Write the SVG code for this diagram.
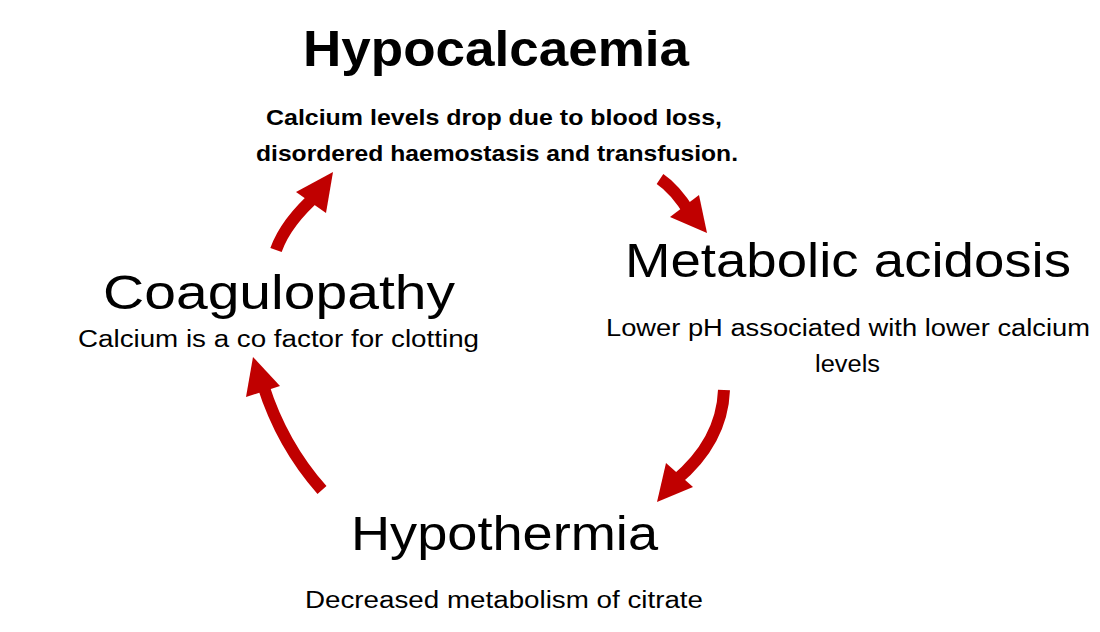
<svg xmlns="http://www.w3.org/2000/svg" width="1100" height="632" viewBox="0 0 1100 632">
<style>
text{font-family:"Liberation Sans","DejaVu Sans",Arial,sans-serif;fill:#000;}
.title{font-size:50px;font-weight:bold;}
.sub{font-size:22px;font-weight:bold;}
.head{font-size:49px;}
.body{font-size:23px;}
.shaft{fill:none;stroke:#C00000;stroke-width:12;stroke-linecap:butt;}
.tip{fill:#C00000;}
</style>
<rect width="1100" height="632" fill="#fff"/>
<g id="hypocalcaemia">
<text class="title" x="303" y="66" textLength="386" lengthAdjust="spacingAndGlyphs">Hypocalcaemia</text>
<text class="sub" x="266" y="125" textLength="456" lengthAdjust="spacingAndGlyphs">Calcium levels drop due to blood loss,</text>
<text class="sub" x="256" y="161" textLength="482" lengthAdjust="spacingAndGlyphs">disordered haemostasis and transfusion.</text>
</g>
<g id="metabolic-acidosis">
<text class="head" x="625" y="277" textLength="446" lengthAdjust="spacingAndGlyphs">Metabolic acidosis</text>
<text class="body" x="606" y="336" textLength="484" lengthAdjust="spacingAndGlyphs">Lower pH associated with lower calcium</text>
<text class="body" x="815" y="372" textLength="65" lengthAdjust="spacingAndGlyphs">levels</text>
</g>
<g id="hypothermia">
<text class="head" x="351" y="550" textLength="307" lengthAdjust="spacingAndGlyphs">Hypothermia</text>
<text class="body" x="305" y="608" textLength="398" lengthAdjust="spacingAndGlyphs">Decreased metabolism of citrate</text>
</g>
<g id="coagulopathy">
<text class="head" x="103" y="309" textLength="352" lengthAdjust="spacingAndGlyphs">Coagulopathy</text>
<text class="body" x="78" y="347" textLength="401" lengthAdjust="spacingAndGlyphs">Calcium is a co factor for clotting</text>
</g>
<g id="connectors">
<path class="shaft" d="M276,250 Q286,222 318,194"/>
<polygon class="tip" points="333,172 296,192 326,213"/>
<path class="shaft" d="M660,179 Q675,189 690,213"/>
<polygon class="tip" points="707,233 670,217 699,195"/>
<path class="shaft" d="M724,390 Q722,442 675,481"/>
<polygon class="tip" points="657,502 666,463 693,487"/>
<path class="shaft" d="M322,490 Q282,445 263,385"/>
<polygon class="tip" points="253,357 246,397 280,386"/>
</g>
</svg>
